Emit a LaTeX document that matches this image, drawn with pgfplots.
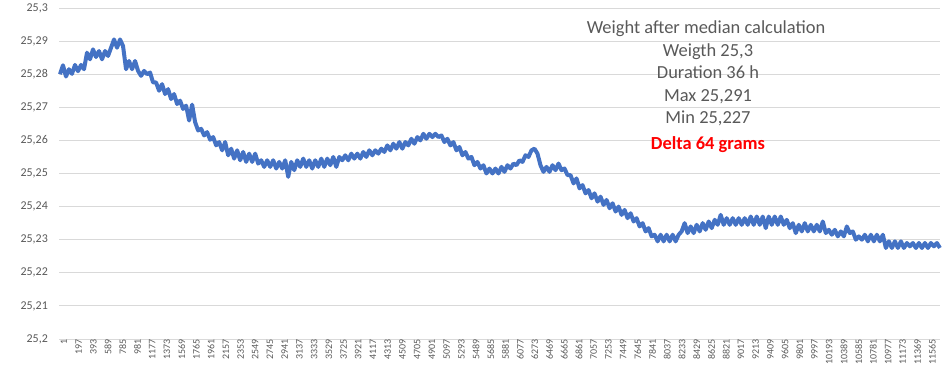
\documentclass[border=0pt]{standalone}
\usepackage{pgfplots}
\usepackage{pgfplotstable}
\pgfplotsset{compat=1.18}
\usepackage{fontspec}
\setmainfont{Carlito}
\definecolor{lineblue}{RGB}{68,114,196}
\definecolor{txtgray}{RGB}{89,89,89}
\definecolor{gridgray}{RGB}{217,217,217}
\pgfplotstableread{
y
25.2800
25.2827
25.2793
25.2815
25.2801
25.2828
25.2809
25.2828
25.2815
25.2865
25.2845
25.2875
25.2852
25.2870
25.2845
25.2870
25.2855
25.2880
25.2905
25.2880
25.2905
25.2885
25.2815
25.2840
25.2815
25.2840
25.2810
25.2795
25.2810
25.2800
25.2805
25.2775
25.2775
25.2750
25.2770
25.2740
25.2755
25.2725
25.2740
25.2710
25.2720
25.2695
25.2705
25.2660
25.2708
25.2655
25.2630
25.2635
25.2615
25.2625
25.2602
25.2610
25.2585
25.2595
25.2570
25.2595
25.2555
25.2575
25.2545
25.2570
25.2540
25.2565
25.2535
25.2560
25.2535
25.2560
25.2530
25.2540
25.2520
25.2540
25.2520
25.2540
25.2515
25.2535
25.2515
25.2540
25.2490
25.2535
25.2510
25.2540
25.2520
25.2545
25.2520
25.2540
25.2515
25.2540
25.2520
25.2545
25.2520
25.2545
25.2525
25.2550
25.2520
25.2550
25.2540
25.2555
25.2540
25.2560
25.2545
25.2560
25.2545
25.2565
25.2550
25.2570
25.2555
25.2570
25.2560
25.2575
25.2565
25.2585
25.2570
25.2590
25.2575
25.2595
25.2575
25.2595
25.2585
25.2605
25.2590
25.2610
25.2600
25.2620
25.2605
25.2620
25.2610
25.2620
25.2610
25.2615
25.2595
25.2605
25.2585
25.2595
25.2570
25.2580
25.2555
25.2565
25.2545
25.2550
25.2525
25.2535
25.2515
25.2525
25.2500
25.2515
25.2500
25.2515
25.2500
25.2520
25.2505
25.2525
25.2515
25.2530
25.2525
25.2540
25.2535
25.2555
25.2550
25.2570
25.2575
25.2560
25.2525
25.2505
25.2520
25.2505
25.2525
25.2510
25.2530
25.2510
25.2515
25.2495
25.2495
25.2470
25.2485
25.2455
25.2465
25.2440
25.2450
25.2425
25.2440
25.2415
25.2430
25.2405
25.2420
25.2395
25.2410
25.2385
25.2400
25.2375
25.2390
25.2365
25.2380
25.2355
25.2365
25.2340
25.2350
25.2325
25.2335
25.2310
25.2315
25.2295
25.2315
25.2295
25.2315
25.2295
25.2315
25.2295
25.2315
25.2325
25.2350
25.2320
25.2340
25.2320
25.2345
25.2325
25.2350
25.2330
25.2355
25.2335
25.2360
25.2345
25.2375
25.2345
25.2365
25.2345
25.2365
25.2345
25.2365
25.2345
25.2365
25.2345
25.2370
25.2345
25.2370
25.2345
25.2370
25.2335
25.2370
25.2345
25.2370
25.2345
25.2370
25.2345
25.2360
25.2335
25.2350
25.2320
25.2345
25.2325
25.2350
25.2325
25.2345
25.2325
25.2345
25.2325
25.2355
25.2320
25.2330
25.2315
25.2330
25.2310
25.2325
25.2310
25.2340
25.2320
25.2325
25.2300
25.2310
25.2300
25.2315
25.2295
25.2315
25.2295
25.2315
25.2295
25.2315
25.2275
25.2295
25.2275
25.2295
25.2275
25.2295
25.2275
25.2290
25.2280
25.2290
25.2275
25.2290
25.2275
25.2290
25.2275
25.2290
25.2280
25.2290
25.2275
}\weight
\begin{document}
\begin{tikzpicture}
\useasboundingbox (0,0) rectangle (951bp,380bp);
\begin{axis}[
  at={(59bp,41bp)}, anchor=south west,
  scale only axis, width=881bp, height=331bp,
  xmin=-12, xmax=11722, ymin=25.2, ymax=25.3,
  axis line style={draw=none},
  major tick length=0pt,
  ymajorgrids, grid style={gridgray, line width=0.9bp},
  ytick={25.2,25.21,25.22,25.23,25.24,25.25,25.26,25.27,25.28,25.29,25.3},
  yticklabels={\mbox{25,2},\mbox{25,21},\mbox{25,22},\mbox{25,23},\mbox{25,24},\mbox{25,25},\mbox{25,26},\mbox{25,27},\mbox{25,28},\mbox{25,29},\mbox{25,3}},
  y tick label style={font=\fontsize{12}{14}\selectfont, text=txtgray, inner sep=0pt, xshift=-11bp},
  scaled x ticks=false,
  xtick={1,197,...,11565},
  xticklabel={\pgfmathparse{int(round(\tick))}\mbox{\pgfmathresult}},
  x tick label style={rotate=90, anchor=east, font=\fontsize{10}{12}\selectfont, text=txtgray, inner sep=0pt, yshift=-4bp},
  clip=false,
]
\addplot[color=lineblue, line width=4bp, no marks, line join=round]
  table[x expr=\coordindex*40+1, y=y] {\weight};
\end{axis}
\begin{scope}[every node/.style={anchor=base, text=txtgray, font=\fontsize{18.5}{22}\selectfont}]
\node at (706bp,346bp) {Weight after median calculation};
\node at (708bp,323bp) {Weigth 25,3};
\node at (708bp,301bp) {Duration 36 h};
\node at (708bp,278bp) {Max 25,291};
\node at (708bp,256bp) {Min 25,227};
\node[text=red, font=\fontsize{18.5}{22}\selectfont\bfseries] at (708bp,230bp) {Delta 64 grams};
\end{scope}
\end{tikzpicture}
\end{document}
